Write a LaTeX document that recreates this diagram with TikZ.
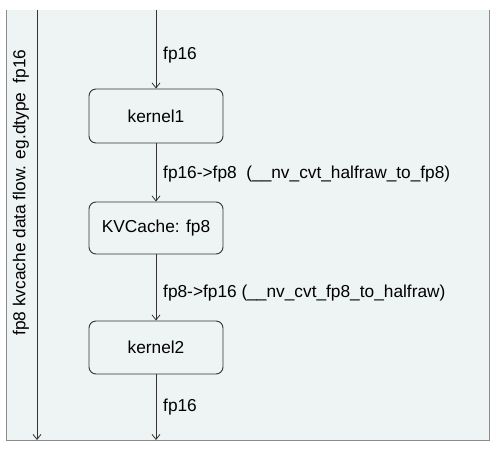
\documentclass[tikz,border=0pt]{standalone}
\usepackage{fontspec}
\setmainfont{Liberation Sans}
\usetikzlibrary{arrows.meta}
\definecolor{bgc}{HTML}{EEF3F3}
\definecolor{linec}{HTML}{333333}
\definecolor{framec}{HTML}{8A8A8A}
\begin{document}
\begin{tikzpicture}[x=1pt,y=-1pt,
  every node/.style={font=\fontsize{17.3}{20}\selectfont, text=black},
  box/.style={draw=linec, line width=0.9pt, fill=bgc, rounded corners=7pt, minimum width=134pt, inner sep=0pt},
  flow/.style={draw=linec, line width=0.9pt, -{Straight Barb[length=5pt,width=8pt,line width=0.8pt]}},
  lbl/.style={anchor=west, inner sep=0pt}]
\useasboundingbox (0,0) rectangle (498,452);
\fill[bgc] (6,10) rectangle (489,440);
\draw[framec, line width=0.9pt] (6,10) -- (6,440) -- (489,440) -- (489,10);
% left side arrow and label
\coordinate (ltop) at (37,10);
\coordinate (lbot) at (37,440);
\draw[flow] (ltop) -- (lbot);
\node[rotate=90, inner sep=0pt] (side) at (21,192.5) {fp8 kvcache data flow. eg.dtype\ \ fp16};
% main flow
\coordinate (mtop) at (156,10);
\coordinate (mbot) at (156,440);
\node[box, minimum height=54pt] (k1) at (156,116) {kernel1};
\node[box, minimum height=52pt] (kv) at (156,228) {KVCache: fp8};
\node[box, minimum height=53pt] (k2) at (156,347.5) {kernel2};
\draw[flow] (mtop) -- (k1.north);
\draw[flow] (k1.south) -- (kv.north);
\draw[flow] (kv.south) -- (k2.north);
\draw[flow] (k2.south) -- (mbot);
\node[lbl] (l1) at (163,55) {fp16};
\node[lbl] (l2) at (163,174) {fp16->fp8\ \ (\_\_nv\_cvt\_halfraw\_to\_fp8)};
\node[lbl] (l3) at (163,293) {fp8->fp16 (\_\_nv\_cvt\_fp8\_to\_halfraw)};
\node[lbl] (l4) at (163,407) {fp16};
\end{tikzpicture}
\end{document}
